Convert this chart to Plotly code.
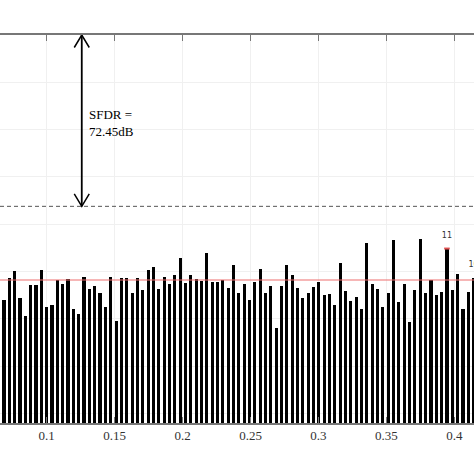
import numpy as np
import plotly.graph_objects as go

# spectrum bins (normalized frequency) and their levels in dB
f_start = 0.06858
f_step = 0.003927
levels_db = [
    -112.1, -102.9, -99.8, -111.3, -118.9, -105.7, -105.5, -99.4, -114.8, -114.2,
    -103.7, -105.3, -103.2, -115.9, -117.8, -102.2, -107.2, -106.0, -108.9, -114.8,
    -102.2, -120.9,
    -102.9, -102.9, -109.2, -102.7, -108.0, -99.5, -97.9, -107.4, -102.2, -105.3,
    -101.3, -94.3, -105.0, -101.6, -103.3, -104.0, -92.3, -104.3, -104.6, -103.8,
    -107.1, -97.3,
    -109.3, -105.4, -111.9, -104.3, -98.9, -109.2, -106.0, -124.0, -106.0, -97.3,
    -101.6, -107.0, -111.0, -109.3, -106.4, -104.6, -109.8, -109.5, -114.3, -96.2,
    -108.1, -112.3,
    -110.9, -115.7, -87.8, -105.1, -107.2, -115.0, -109.3, -86.8, -112.9, -105.1,
    -121.2, -108.0, -86.4, -109.2, -103.6, -109.8, -108.8, -90.3, -108.0, -100.9,
    -115.7, -108.7, -102.6,
]
freqs = f_start + f_step * np.arange(len(levels_db))

sfdr_db = 72.45
noise_db = -103.6
harm_freqs = [freqs[83], freqs[88]]
harm_levels = [levels_db[83], levels_db[88]]
harm_labels = ["11", "10"]

x_range = [0.06564, 0.41443]
y_range = [-164.06, 0]
px_per_db = 2.365
px_per_f = 1359.0

fig = go.Figure()

# spectrum stems
floor = y_range[0]
fig.add_trace(go.Bar(
    x=freqs, y=[v - floor for v in levels_db], base=floor,
    width=0.0023, marker=dict(color="black", line=dict(width=0)),
    showlegend=False, hoverinfo="skip"))

# harmonic markers + labels
fig.add_trace(go.Scatter(
    x=harm_freqs[:1], y=harm_levels[:1], mode="markers",
    marker=dict(symbol="line-ew", size=4, line=dict(color="#e05050", width=2)),
    showlegend=False))
fig.add_trace(go.Scatter(
    x=harm_freqs, y=[v + 3.5 for v in harm_levels], mode="text",
    text=harm_labels, textfont=dict(size=8, color="#333", family="DejaVu Sans"),
    textposition="top center", cliponaxis=True, showlegend=False))

# SFDR level (dashed) and noise floor (red)
fig.add_hline(y=-sfdr_db, line=dict(color="#555", width=1, dash="4px,3px"))
fig.add_hline(y=noise_db, line=dict(color="#ee6e6e", width=1.2))

# double-headed arrow with open heads
ax = 0.1258
dx = 7.5 / px_per_f
dy = 12.5 / px_per_db
fig.add_trace(go.Scatter(x=[ax, ax], y=[0, -sfdr_db], mode="lines",
                         line=dict(color="black", width=1.8), showlegend=False))
fig.add_trace(go.Scatter(x=[ax - dx, ax, ax + dx], y=[-dy, 0, -dy], mode="lines",
                         line=dict(color="black", width=1.5), showlegend=False))
fig.add_trace(go.Scatter(x=[ax - dx, ax, ax + dx],
                         y=[-sfdr_db + dy, -sfdr_db, -sfdr_db + dy], mode="lines",
                         line=dict(color="black", width=1.5), showlegend=False))
fig.add_annotation(x=0.1295, y=-37.2, xanchor="left", yanchor="middle",
                   text="SFDR =<br>72.45dB", showarrow=False, align="left",
                   font=dict(family="Liberation Serif", size=13, color="black"))

fig.update_layout(
    width=474, height=474,
    margin=dict(l=0, r=0, t=35, b=51),
    paper_bgcolor="white", plot_bgcolor="white",
    bargap=0, showlegend=False,
    xaxis=dict(range=x_range, tick0=0, dtick=0.05, ticks="inside", ticklen=6,
               tickcolor="#777", showline=True, linecolor="#777", linewidth=1.5,
               mirror="ticks", showgrid=True, gridcolor="#f0f0f0", zeroline=False,
               tickfont=dict(family="Liberation Serif", size=13, color="#333")),
    yaxis=dict(range=y_range, dtick=20, showticklabels=False, showgrid=True,
               gridcolor="#f0f0f0", zeroline=False, showline=False, ticks=""),
)

# drop the default page margin so the figure sits at the window's corner
fig.write_html("out.html", config={"displayModeBar": False},
               post_script="document.body.style.margin='0';")
